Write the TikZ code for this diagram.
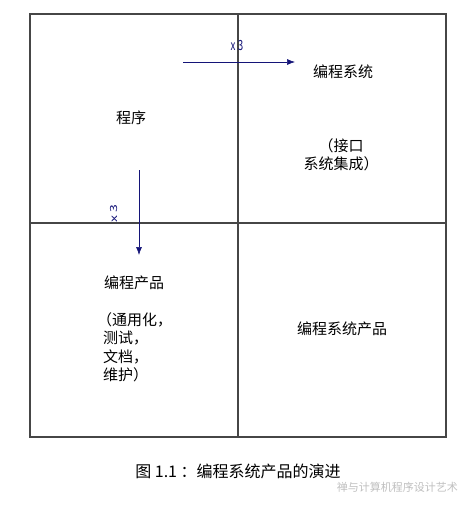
\documentclass[tikz,border=0pt]{standalone}
\usepackage{fontspec}
\setmainfont{Noto Sans CJK SC}
\usetikzlibrary{arrows.meta, positioning}
\usepackage{xcolor}
\definecolor{arrowblue}{RGB}{20,20,120}
\definecolor{framegray}{RGB}{70,70,70}

\begin{document}
\begin{tikzpicture}[x=1pt,y=-1pt]
    \tikzstyle{frame}=[draw=framegray, line width=1.4pt]
    \tikzstyle{growth}=[draw=arrowblue, line width=0.6pt, -{Latex[length=8pt,width=6pt]}]
    \tikzstyle{times}=[text=arrowblue, font=\fontsize{14}{14}\selectfont, inner sep=0pt, xscale=0.7]
    \tikzstyle{stage}=[font=\fontsize{15}{18.5}\selectfont, inner sep=0pt]
    \tikzstyle{note}=[stage, align=center]
    \useasboundingbox (0,0) rectangle (474,508);

    % Draw the four quadrants
    \draw[frame] (30,14) rectangle (446,437);
    \draw[frame] (238,14) -- (238,437);
    \draw[frame] (30,223) -- (446,223);

    % Draw the stage labels
    \node[stage] (prog) at (131,118) {程序};
    \node[stage] (sys) at (343,72) {编程系统};
    \node[note] (sys-note) at (341,155) {（接口\\系统集成）};
    \node[stage] (prod) at (134,283) {编程产品};
    \node[stage, align=left, anchor=north west] (prod-note) at (97,312)
        {（通用化，\\\hspace{6pt}测试，\\\hspace{6pt}文档，\\\hspace{6pt}维护）};
    \node[stage] (sysprod) at (342,329) {编程系统产品};

    % Draw the growth arrows
    \coordinate (h-from) at (183,62);
    \coordinate (h-to) at (295,62);
    \coordinate (v-from) at (139,170);
    \coordinate (v-to) at (139,255);
    \draw[growth] (h-from) -- (h-to);
    \draw[growth] (v-from) -- (v-to);
    \node[times] (h-times) at (237,46) {x 3};
    \node[times, rotate=90] (v-times) at (114,214) {x 3};

    % Caption and watermark
    \node[font=\fontsize{16}{16}\selectfont, inner sep=0pt] (caption) at (238,471) {图 1.1 ：编程系统产品的演进};
    \node[font=\fontsize{11}{11}\selectfont, text=black!25, inner sep=0pt, anchor=east] (mark) at (458,487) {禅与计算机程序设计艺术};
\end{tikzpicture}
\end{document}
